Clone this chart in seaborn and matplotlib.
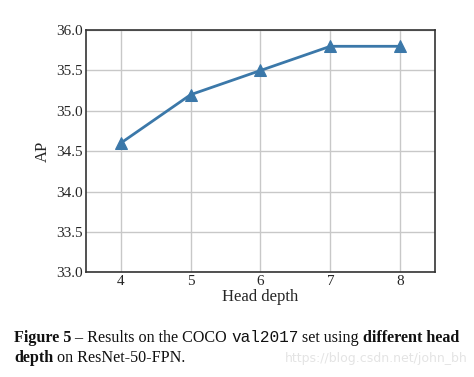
import matplotlib
matplotlib.use("Agg")
import matplotlib.pyplot as plt
import seaborn as sns
import pandas as pd

# Data
head_depth = [4, 5, 6, 7, 8]
ap_values = [34.6, 35.2, 35.5, 35.8, 35.8]
y_ticks = [33.0, 33.5, 34.0, 34.5, 35.0, 35.5, 36.0]

LINE_COLOR = "#3b78a9"
SERIF = ["Liberation Serif", "DejaVu Serif"]
MONO = ["Liberation Mono", "DejaVu Sans Mono"]

sns.set_theme(style="whitegrid")
plt.rcParams["font.family"] = SERIF

df = pd.DataFrame({"Head depth": head_depth, "AP": ap_values})

fig = plt.figure(figsize=(4.74, 3.77), dpi=100)
ax = fig.add_axes([0.181, 0.278, 0.737, 0.642])

sns.lineplot(data=df, x="Head depth", y="AP", ax=ax, color=LINE_COLOR,
             linewidth=2, marker="^", markersize=9, markeredgecolor=LINE_COLOR)

ax.set_xlim(3.5, 8.5)
ax.set_ylim(33.0, 36.0)
ax.set_xticks(head_depth)
ax.set_yticks(y_ticks)
ax.set_yticklabels([f"{v:.1f}" for v in y_ticks])
ax.tick_params(labelsize=11, pad=2, length=0)
ax.set_xlabel("Head depth", fontsize=12, labelpad=1)
ax.set_ylabel("AP", fontsize=12, labelpad=4)
ax.grid(True, color="#c8c8c8", linewidth=1)
for s in ax.spines.values():
    s.set_color("#333333")
    s.set_linewidth(1.2)

# Caption with mixed fonts
def draw_runs(runs, x0, y):
    renderer = fig.canvas.get_renderer()
    x = x0
    for text, weight, family in runs:
        t = fig.text(x / 474, 1 - y / 377, text, fontsize=11.6, fontweight=weight,
                     family=family, color="#111111", va="baseline", ha="left")
        bb = t.get_window_extent(renderer=renderer)
        x += bb.width

draw_runs([
    ("Figure 5", "bold", SERIF),
    (" \u2013 Results on the COCO ", "normal", SERIF),
    ("val2017", "normal", MONO),
    (" set using ", "normal", SERIF),
    ("different head", "bold", SERIF),
], 14, 342)
draw_runs([
    ("depth", "bold", SERIF),
    (" on ResNet-50-FPN.", "normal", SERIF),
], 14, 362)

fig.text(468 / 474, 1 - 362 / 377, "https://blog.csdn.net/john_bh", fontsize=9,
         family=["DejaVu Sans"], color="#e4e4e4", ha="right", va="baseline")

fig.savefig("out.png", dpi=100)
